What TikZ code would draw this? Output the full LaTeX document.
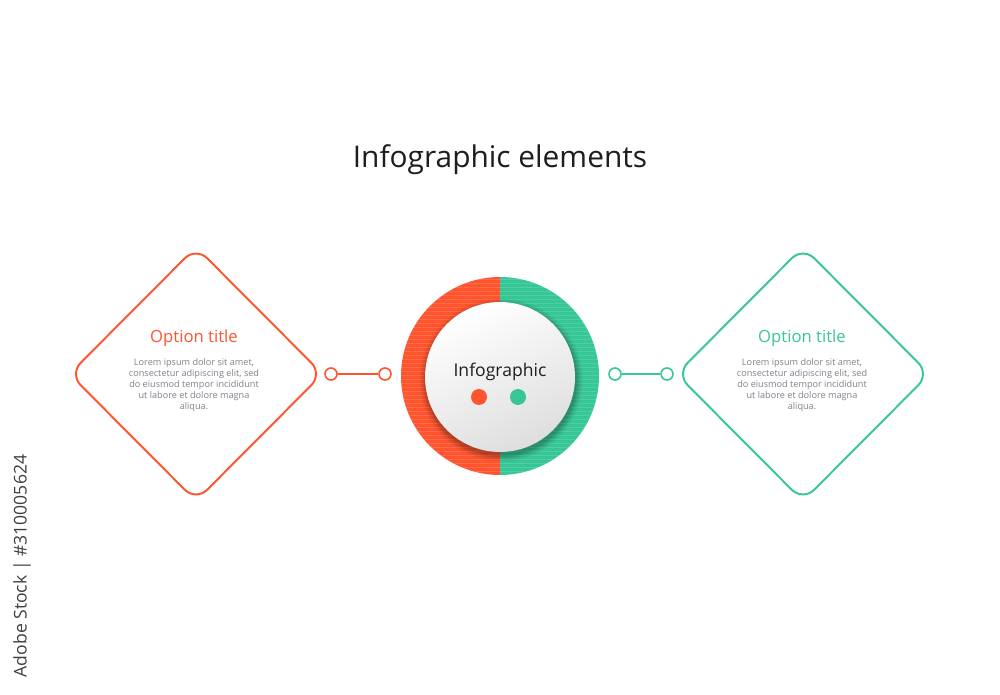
\documentclass[tikz,border=0pt]{standalone}
\usepackage{fontspec}
\setmainfont{Open Sans}
\usetikzlibrary{shapes.geometric}
\definecolor{orng}{RGB}{255,84,46}
\definecolor{grn}{RGB}{55,199,150}
\definecolor{bodygray}{RGB}{128,130,138}
\definecolor{titleink}{RGB}{30,30,30}
\tikzset{
  diabox/.style={draw, diamond, aspect=1, minimum width=5.06cm, minimum height=5.08cm, inner sep=0pt, outer sep=0pt, rounded corners=9pt, line width=1.1pt},
  joint/.style={circle, draw, fill=white, line width=0.9pt, minimum size=0.24cm, inner sep=0pt},
  link/.style={line width=0.9pt},
  opttitle/.style={font=\fontsize{9.5}{11}\selectfont},
  bodytext/.style={font=\fontsize{5.2}{6.2}\selectfont, text=bodygray, align=center},
  dotmark/.style={circle, minimum size=0.32cm, inner sep=0pt},
}
\begin{document}
\begin{tikzpicture}[x=0.02cm,y=-0.02cm]
\useasboundingbox (0,0) rectangle (1000,695);
\fill[white] (0,0) rectangle (1000,695);

% title
\node[font=\fontsize{17}{20}\selectfont, text=titleink] (title) at (500,160) {Infographic elements};

% diamonds
\node[diabox, draw=orng] (ldia) at (196,374) {};
\node[diabox, draw=grn] (rdia) at (803,374) {};

\node[opttitle, text=orng] (lopt) at (194,338) {Option title};
\node[bodytext] (lbody) at (194,385) {Lorem ipsum dolor sit amet,\\consectetur adipiscing elit, sed\\do eiusmod tempor incididunt\\ut labore et dolore magna\\aliqua.};
\node[opttitle, text=grn] (ropt) at (802,338) {Option title};
\node[bodytext] (rbody) at (802,385) {Lorem ipsum dolor sit amet,\\consectetur adipiscing elit, sed\\do eiusmod tempor incididunt\\ut labore et dolore magna\\aliqua.};

% ring
\coordinate (ring) at (500,376);
\begin{scope}
  \clip (398,270) rectangle (500,480);
  \fill[orng] (ring) circle[radius=1.98cm];
\end{scope}
\begin{scope}
  \clip (500,270) rectangle (602,480);
  \fill[grn] (ring) circle[radius=1.98cm];
\end{scope}
\begin{scope}
  \clip (ring) circle[radius=1.98cm];
  \foreach \yy in {279,283,...,475} {
    \draw[white, opacity=0.13, line width=0.35pt] (400,\yy) -- (600,\yy);
  }
\end{scope}

% inner disc with shadow
\foreach \k/\op in {7/0.025,6/0.03,5/0.035,4/0.04,3/0.05,2/0.06,1/0.07} {
  \fill[black, opacity=\op] (501,380) circle[radius={(75+\k)*0.02cm}];
}
\shade[top color=white, bottom color=black!13, shading angle=25] (500,377) circle[radius=1.5cm];
\node[circle, minimum size=3cm, inner sep=0pt] (disc) at (500,377) {};

\node[font=\fontsize{10}{12}\selectfont, text=titleink] (center) at (500,372) {Infographic};
\node[dotmark, fill=orng] (dot1) at (479,397) {};
\node[dotmark, fill=grn] (dot2) at (518,397) {};

% connectors
\node[joint, draw=orng] (lc1) at (331,374) {};
\node[joint, draw=orng] (lc2) at (385,374) {};
\draw[link, orng] (lc1) -- (lc2);
\node[joint, draw=grn] (rc1) at (615,374) {};
\node[joint, draw=grn] (rc2) at (667,374) {};
\draw[link, grn] (rc1) -- (rc2);

% side label
\node[rotate=90, font=\fontsize{10}{12}\selectfont, text=black!75] (stock) at (22,566) {Adobe Stock | \#310005624};
\end{tikzpicture}
\end{document}
